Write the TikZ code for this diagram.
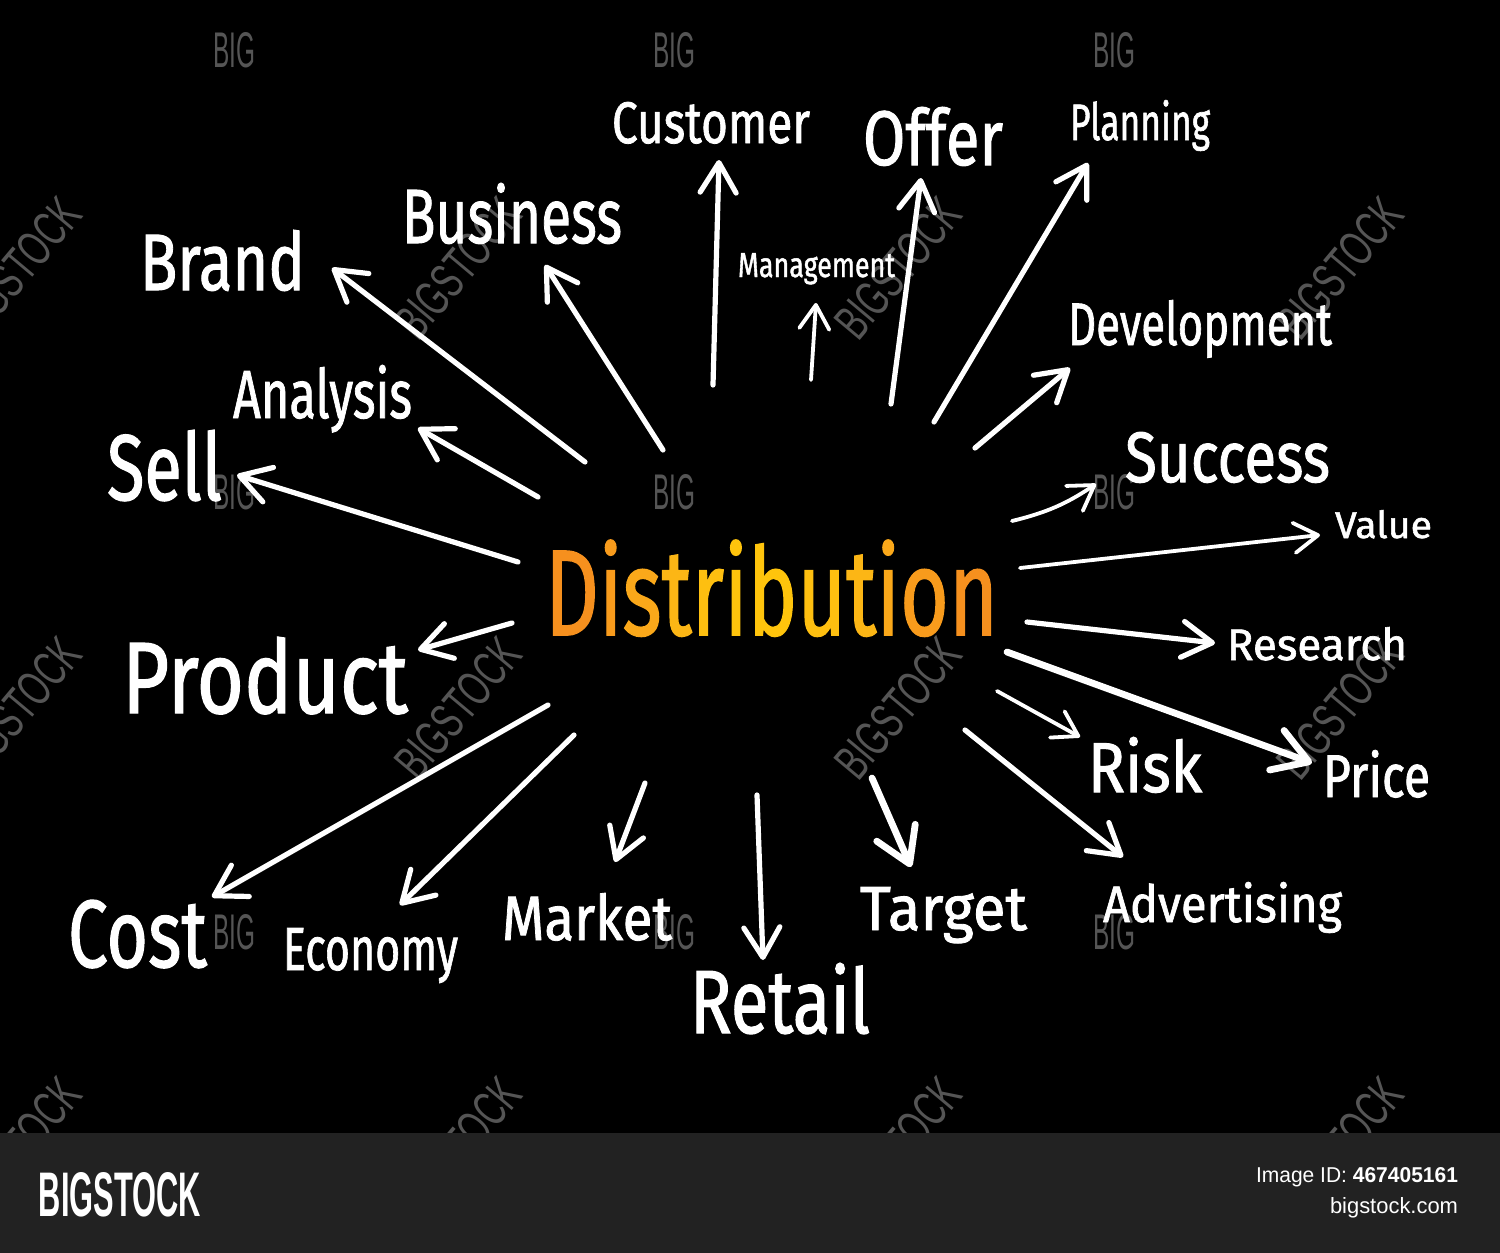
\documentclass[tikz,border=0pt]{standalone}
\usepackage{fontspec}
\setmainfont{Fira Sans}
\newfontfamily\hand{Fira Sans}[FakeBold=1.4]
\newfontfamily\wmfont{Liberation Sans}
\usetikzlibrary{arrows.meta}
\newlength\pxu
\setlength\pxu{0.5pt}
\newcommand\hw[3]{\resizebox{#1\pxu}{#2\pxu}{#3}}
\definecolor{barbg}{HTML}{222222}
\definecolor{wmgray}{HTML}{555555}
\definecolor{oA}{HTML}{F6901E}
\definecolor{oB}{HTML}{F89B1C}
\definecolor{oC}{HTML}{FAA81A}
\definecolor{oD}{HTML}{FCB615}
\definecolor{oE}{HTML}{FEBF10}
\definecolor{oF}{HTML}{FFC40C}
\begin{document}
\begin{tikzpicture}[x=0.5pt,y=-0.5pt,
  every node/.style={inner sep=0pt,outer sep=0pt},
  lbl/.style={anchor=base west,text=white,font=\hand},
  wm/.style={text=wmgray},
  arr/.style={draw=white,line width=2.6pt,line cap=round,
    -{Straight Barb[length=15pt,width=18pt,round]}},
  arrsmall/.style={draw=white,line width=1.9pt,line cap=round,
    -{Straight Barb[length=12pt,width=15pt,round]}},
  arrbig/.style={draw=white,line width=3.4pt,line cap=round,
    -{Straight Barb[length=17pt,width=21pt,round]}}]
\useasboundingbox (0,0) rectangle (1500,1253);
\fill[black] (0,0) rectangle (1500,1253);

% watermarks
\foreach \wx in {234,674,1114}{
  \foreach \wy in {50,492,932}{
    \node[wm] at (\wx,\wy) {\hw{42}{35}{\wmfont BIG}};
  }
}
\begin{scope}
\clip (0,0) rectangle (1500,1133);
\foreach \wx in {18,458,898,1340}{
  \foreach \wy in {268,708,1148}{
    \node[wm,rotate=50] at (\wx,\wy) {\hw{165}{35}{\wmfont BIGSTOCK}};
  }
}
\end{scope}

% central word
\node[anchor=base west,font=\hand] (dist) at (545,635) {\hw{453}{95}{%
\textcolor{oA}{D}\textcolor{oB}{i}\textcolor{oC}{s}\textcolor{oD}{t}%
\textcolor{oE}{r}\textcolor{oF}{i}\textcolor{oF}{b}\textcolor{oE}{u}%
\textcolor{oD}{t}\textcolor{oC}{i}\textcolor{oB}{o}\textcolor{oA}{n}}};

% labels
\node[lbl] (customer) at (612,143) {\hw{198}{41}{Customer}};
\node[lbl] (business) at (402,243) {\hw{220}{60}{Business}};
\node[lbl] (management) at (738,277) {\hw{157}{24}{Management}};
\node[lbl] (offer) at (863,165) {\hw{140}{58}{Offer}};
\node[lbl] (planning) at (1070,140) {\hw{140}{40}{Planning}};
\node[lbl] (development) at (1068,345) {\hw{264}{45}{Development}};
\node[lbl] (brand) at (140,290) {\hw{165}{60}{Brand}};
\node[lbl] (analysis) at (233,418) {\hw{179}{53}{Analysis}};
\node[lbl] (sell) at (107,500) {\hw{115}{70}{Sell}};
\node[lbl] (success) at (1125,482) {\hw{205}{50}{Success}};
\node[lbl] (value) at (1335,538) {\hw{97}{28}{Value}};
\node[lbl] (research) at (1227,660) {\hw{180}{33}{Research}};
\node[lbl] (risk) at (1088,792) {\hw{114}{55}{Risk}};
\node[lbl] (price) at (1323,797) {\hw{107}{47}{Price}};
\node[lbl] (product) at (122,713) {\hw{286}{76}{Product}};
\node[lbl] (cost) at (68,967) {\hw{139}{67}{Cost}};
\node[lbl] (economy) at (283,970) {\hw{175}{42}{Economy}};
\node[lbl] (market) at (502,940) {\hw{170}{47}{Market}};
\node[lbl] (retail) at (690,1033) {\hw{180}{70}{Retail}};
\node[lbl] (target) at (860,930) {\hw{167}{43}{Target}};
\node[lbl] (advertising) at (1103,922) {\hw{239}{40}{Advertising}};

% connector end points
\coordinate (sBrand) at (585,462);   \coordinate (tBrand) at (332,268);
\coordinate (sBusiness) at (663,450); \coordinate (tBusiness) at (545,265);
\coordinate (sCustomer) at (713,385); \coordinate (tCustomer) at (719,160);
\coordinate (sManagement) at (811,380); \coordinate (tManagement) at (816,303);
\coordinate (sOffer) at (891,404); \coordinate (tOffer) at (921,178);
\coordinate (sPlanning) at (934,422); \coordinate (tPlanning) at (1088,163);
\coordinate (sDevelopment) at (975,448); \coordinate (tDevelopment) at (1070,368);
\coordinate (sAnalysis) at (538,497); \coordinate (tAnalysis) at (418,428);
\coordinate (sSell) at (518,562); \coordinate (tSell) at (237,475);
\coordinate (sSuccess) at (1012,521); \coordinate (tSuccess) at (1096,484);
\coordinate (sValue) at (1020,568); \coordinate (tValue) at (1320,535);
\coordinate (sResearch) at (1027,622); \coordinate (tResearch) at (1215,643);
\coordinate (sProduct) at (512,623); \coordinate (tProduct) at (418,650);
\coordinate (sRisk) at (997,691); \coordinate (tRisk) at (1080,737);
\coordinate (sPrice) at (1007,652); \coordinate (tPrice) at (1312,763);
\coordinate (sAdvertising) at (965,730); \coordinate (tAdvertising) at (1123,857);
\coordinate (sTarget) at (872,778); \coordinate (tTarget) at (911,867);
\coordinate (sRetail) at (757,795); \coordinate (tRetail) at (763,960);
\coordinate (sMarket) at (645,783); \coordinate (tMarket) at (615,862);
\coordinate (sEconomy) at (574,735); \coordinate (tEconomy) at (400,905);
\coordinate (sCost) at (548,705); \coordinate (tCost) at (212,897);

% connectors
\draw[arr] (sBrand) -- (tBrand);
\draw[arr] (sBusiness) -- (tBusiness);
\draw[arr] (sCustomer) -- (tCustomer);
\draw[arrsmall] (sManagement) -- (tManagement);
\draw[arr] (sOffer) -- (tOffer);
\draw[arr] (sPlanning) -- (tPlanning);
\draw[arr] (sDevelopment) -- (tDevelopment);
\draw[arr] (sAnalysis) -- (tAnalysis);
\draw[arr] (sSell) -- (tSell);
\draw[arrsmall] (sSuccess) to[bend right=10] (tSuccess);
\draw[arrsmall] (sValue) -- (tValue);
\draw[arr] (sResearch) -- (tResearch);
\draw[arr] (sProduct) -- (tProduct);
\draw[arrsmall] (sRisk) -- (tRisk);
\draw[arrbig] (sPrice) -- (tPrice);
\draw[arr] (sAdvertising) -- (tAdvertising);
\draw[arrbig] (sTarget) -- (tTarget);
\draw[arr] (sRetail) -- (tRetail);
\draw[arr] (sMarket) -- (tMarket);
\draw[arr] (sEconomy) -- (tEconomy);
\draw[arr] (sCost) -- (tCost);

% bottom bar
\fill[barbg] (0,1133) rectangle (1500,1253);
\node[anchor=base west,text=white] (logo) at (39,1216) {\hw{162}{44}{\wmfont\bfseries BIGSTOCK}};
\node[anchor=base east,text=white] (imageid) at (1458,1182) {\hw{202}{15}{\wmfont Image ID: \textbf{467405161}}};
\node[anchor=base east,text=white] (site) at (1458,1213) {\hw{128}{16}{\wmfont bigstock.com}};
\end{tikzpicture}
\end{document}
